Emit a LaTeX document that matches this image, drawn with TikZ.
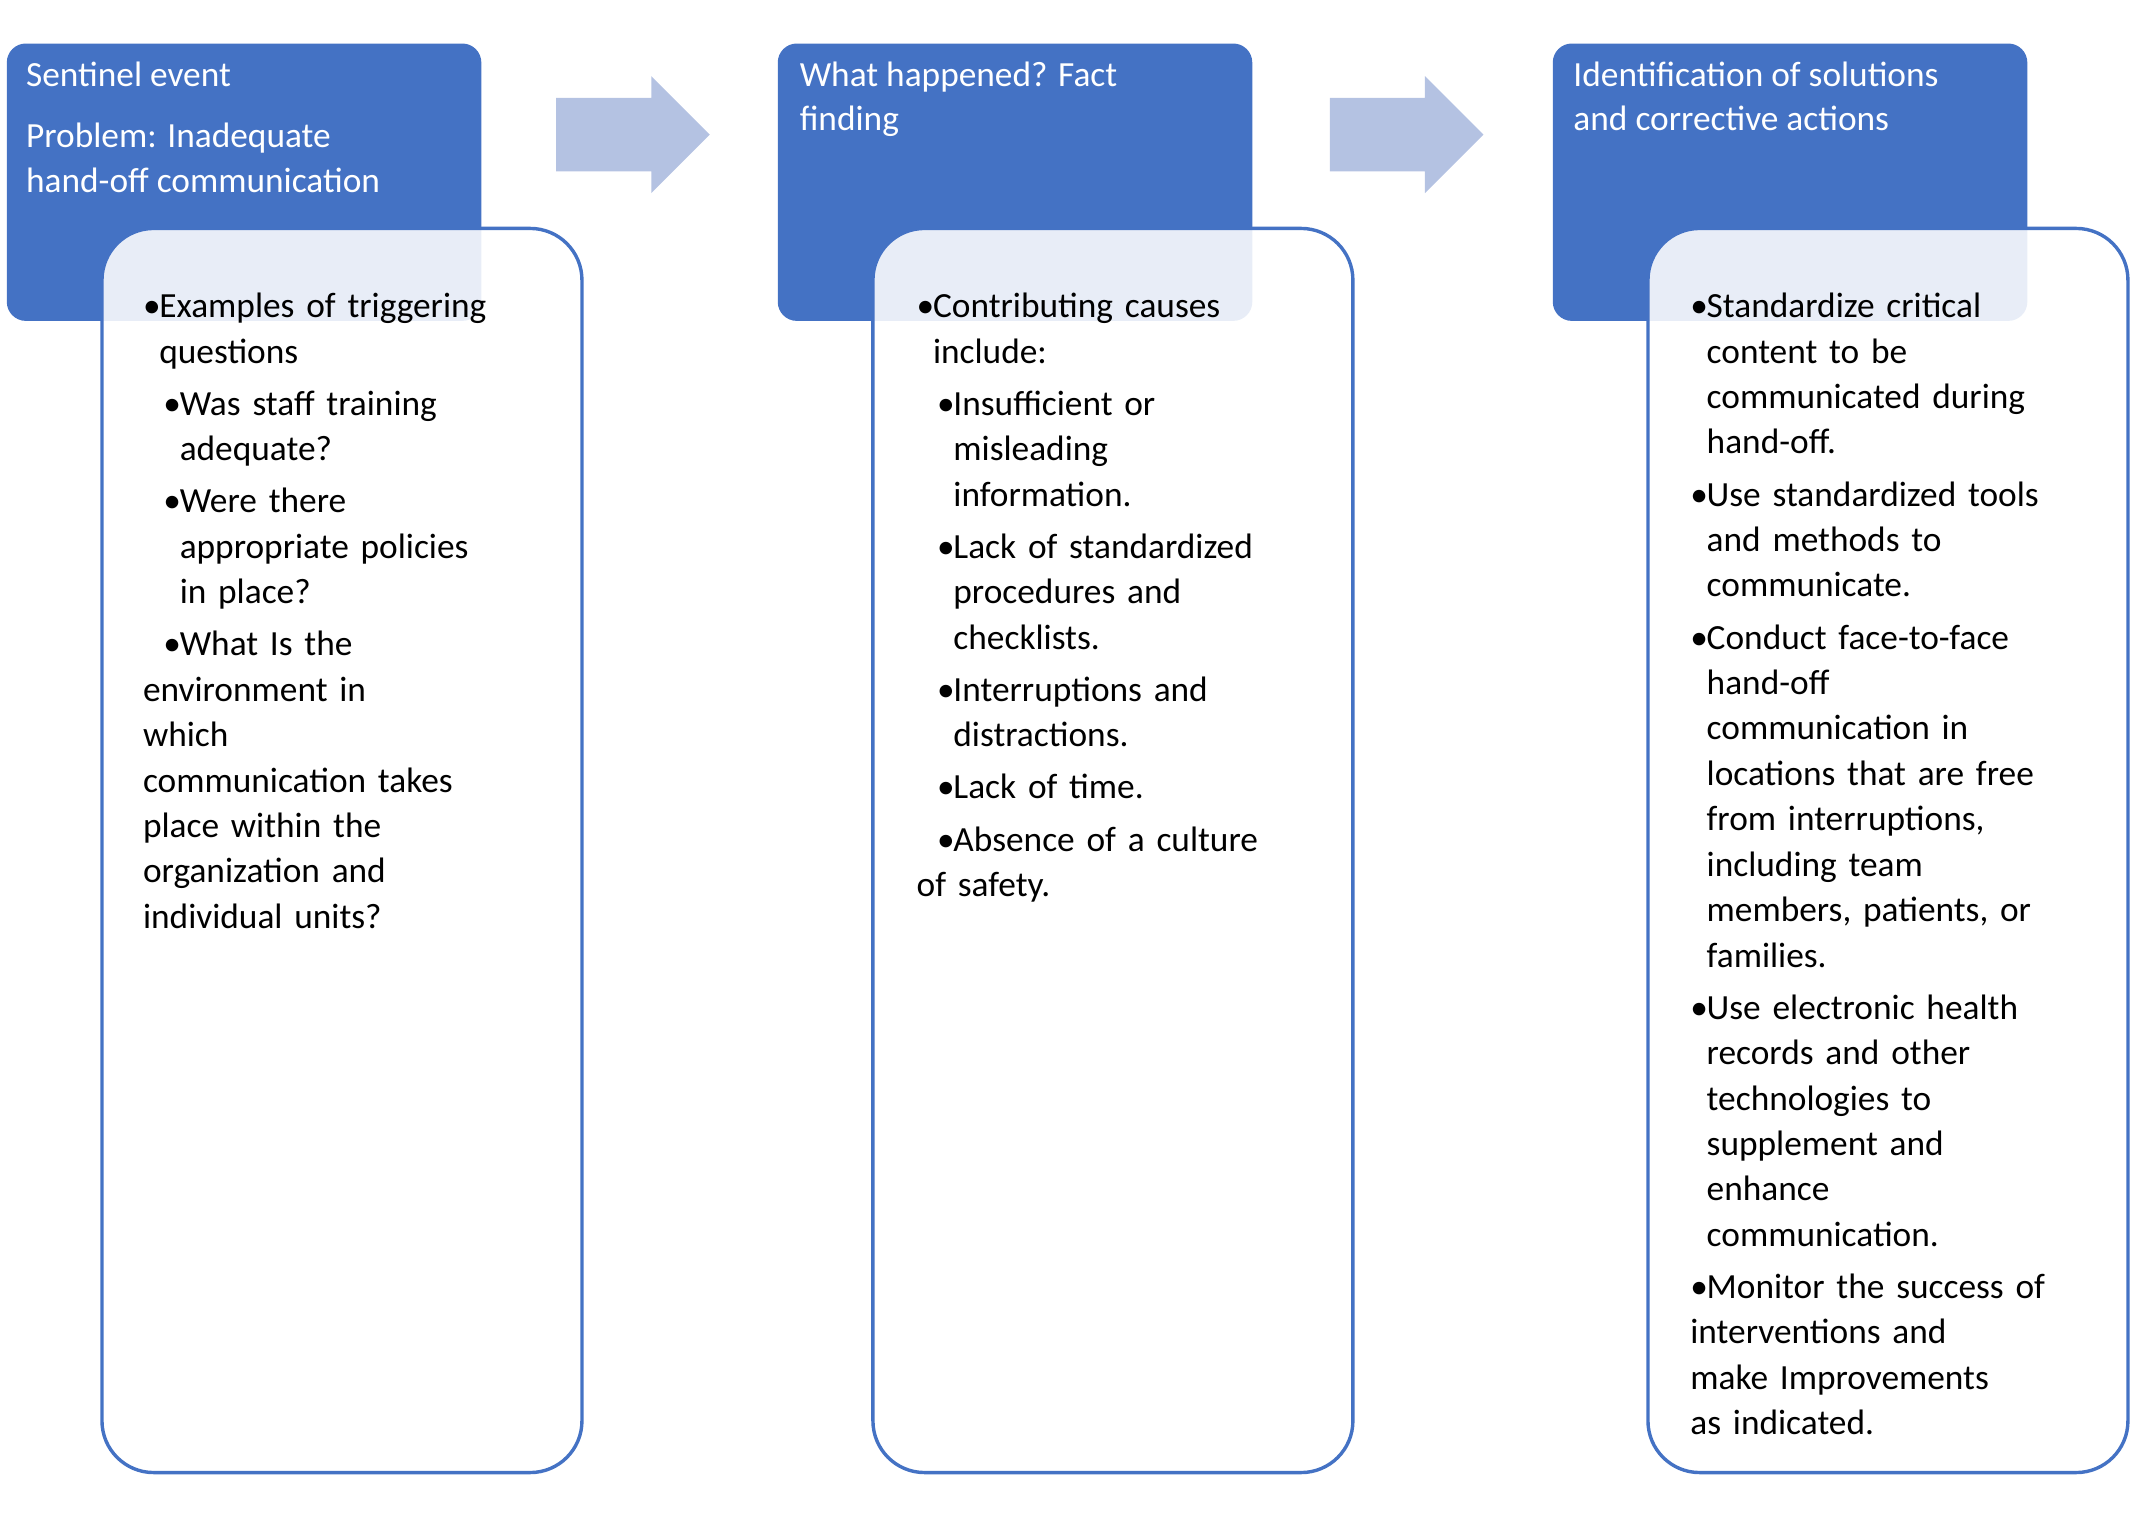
\documentclass[tikz,border=0pt]{standalone}
\usepackage{fontspec}
\setmainfont{Carlito}
\definecolor{hblue}{HTML}{4472C4}
\definecolor{ablue}{HTML}{B4C2E2}
\newcommand{\bi}[1]{\par\hangindent=#1\hangafter=1\hspace*{\dimexpr#1-12pt\relax}\makebox[12pt][l]{\textbullet}}
\begin{document}
\begin{tikzpicture}[x=1pt,y=-1pt,
 head/.style={fill=hblue,rounded corners=14pt,draw=none},
 body/.style={fill=white,fill opacity=0.88,draw=hblue,draw opacity=1,line width=2.5pt,rounded corners=38pt},
 arr/.style={fill=ablue,draw=none},
 htxt/.style={anchor=north west,text=white,font=\fontsize{26}{33}\selectfont,align=left,inner sep=0pt},
 btxt/.style={anchor=north west,text width=420pt,font=\fontsize{26}{33.4}\selectfont,align=left,inner sep=0pt,text opacity=1}]
\useasboundingbox (0,0) rectangle (1568,1113);
\foreach \n/\x in {a/5,b/572,c/1142}{
 \path[head] (\x,32) rectangle ++(349,204);
 \path[body] (\x+70,168) rectangle ++(353,915);
}
\coordinate (a1) at (409,72);\coordinate (b1) at (978,72);
\path[arr] (409,72) -- (479,72) -- (479,56) -- (522,99) -- (479,142) -- (479,126) -- (409,126) -- cycle;
\path[arr] (978,72) -- (1048,72) -- (1048,56) -- (1091,99) -- (1048,142) -- (1048,126) -- (978,126) -- cycle;
\node[htxt] (h1) at (19,45) {Sentinel event\\[12pt]Problem: Inadequate\\hand-off communication};
\node[htxt] (h2) at (588,45) {What happened? Fact\\finding};
\node[htxt] (h3) at (1157,45) {Identification of solutions\\and corrective actions};
\node[btxt] (t1) at (105,195) {\parskip=5pt
\bi{12pt}Examples of triggering\newline questions
\bi{27pt}Was staff training\newline adequate?
\bi{27pt}Were there\newline appropriate policies\newline in place?
\bi{27pt}What Is the\newline environment in\newline which\newline communication takes\newline place within the\newline organization and\newline individual units?};
\node[btxt] (t2) at (674,195) {\parskip=5pt
\bi{12pt}Contributing causes\newline include:
\bi{27pt}Insufficient or\newline misleading\newline information.
\bi{27pt}Lack of standardized\newline procedures and\newline checklists.
\bi{27pt}Interruptions and\newline distractions.
\bi{27pt}Lack of time.
\bi{27pt}Absence of a culture\newline of safety.};
\node[btxt] (t3) at (1243,195) {\parskip=5pt
\bi{12pt}Standardize critical\newline content to be\newline communicated during\newline hand-off.
\bi{12pt}Use standardized tools\newline and methods to\newline communicate.
\bi{12pt}Conduct face-to-face\newline hand-off\newline communication in\newline locations that are free\newline from interruptions,\newline including team\newline members, patients, or\newline families.
\bi{12pt}Use electronic health\newline records and other\newline technologies to\newline supplement and\newline enhance\newline communication.
\bi{12pt}Monitor the success of\newline interventions and\newline make Improvements\newline as indicated.};
\end{tikzpicture}
\end{document}
